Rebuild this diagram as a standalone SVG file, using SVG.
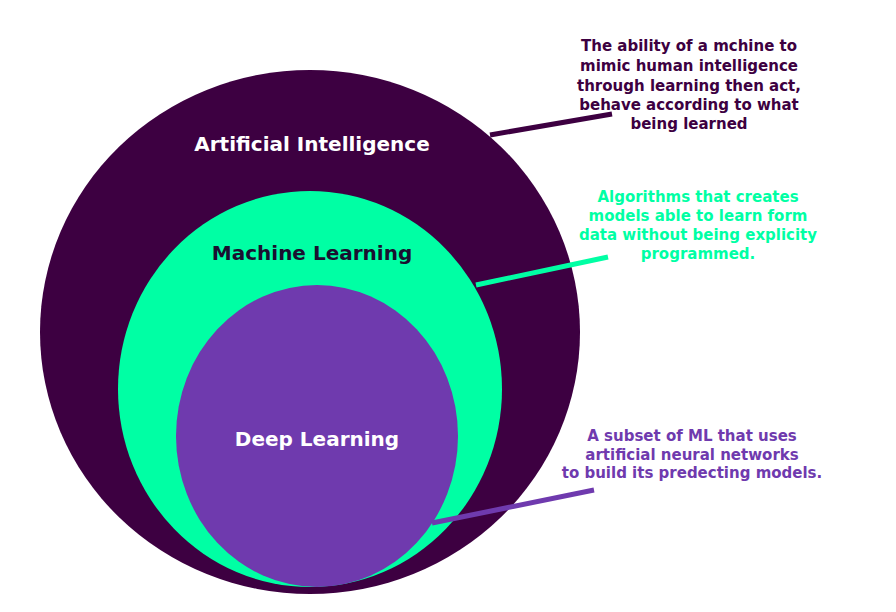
<svg xmlns="http://www.w3.org/2000/svg" width="896" height="612" viewBox="0 0 896 612">
<style>
.t{font-family:"DejaVu Sans",sans-serif;font-weight:bold;text-anchor:middle}
.big{font-size:20px}
.ann{font-size:15px}
</style>
<rect width="896" height="612" fill="#fff"/>
<g id="ai"><ellipse cx="310" cy="332" rx="270" ry="262" fill="#3d0041"/>
<text class="t big" x="312" y="151" fill="#fff">Artificial Intelligence</text></g>
<g id="ml"><ellipse cx="310" cy="389" rx="192" ry="198" fill="#00ffa4"/>
<text class="t big" x="312" y="260" fill="#1a1030">Machine Learning</text></g>
<g id="dl"><ellipse cx="317" cy="436" rx="141" ry="151" fill="#6f3aae"/>
<text class="t big" x="317" y="446" fill="#fff">Deep Learning</text></g>
<g id="connectors" stroke-width="5" stroke-linecap="butt">
<line x1="490" y1="135" x2="612" y2="114" stroke="#3d0041"/>
<line x1="476" y1="285" x2="608" y2="257" stroke="#00ffa4"/>
<line x1="432" y1="523" x2="594" y2="490" stroke="#6f3aae"/>
</g>
<g id="ann-ai" class="t ann" fill="#3d0041">
<text x="689" y="51">The ability of a mchine to</text>
<text x="689" y="71">mimic human intelligence</text>
<text x="689" y="91">through learning then act,</text>
<text x="689" y="110">behave according to what</text>
<text x="689" y="129">being learned</text>
</g>
<g id="ann-ml" class="t ann" fill="#00ffa4">
<text x="698" y="202">Algorithms that creates</text>
<text x="698" y="221">models able to learn form</text>
<text x="698" y="240">data without being explicity</text>
<text x="698" y="259">programmed.</text>
</g>
<g id="ann-dl" class="t ann" fill="#6f3aae">
<text x="692" y="441">A subset of ML that uses</text>
<text x="692" y="460">artificial neural networks</text>
<text x="692" y="478">to build its predecting models.</text>
</g>
</svg>
